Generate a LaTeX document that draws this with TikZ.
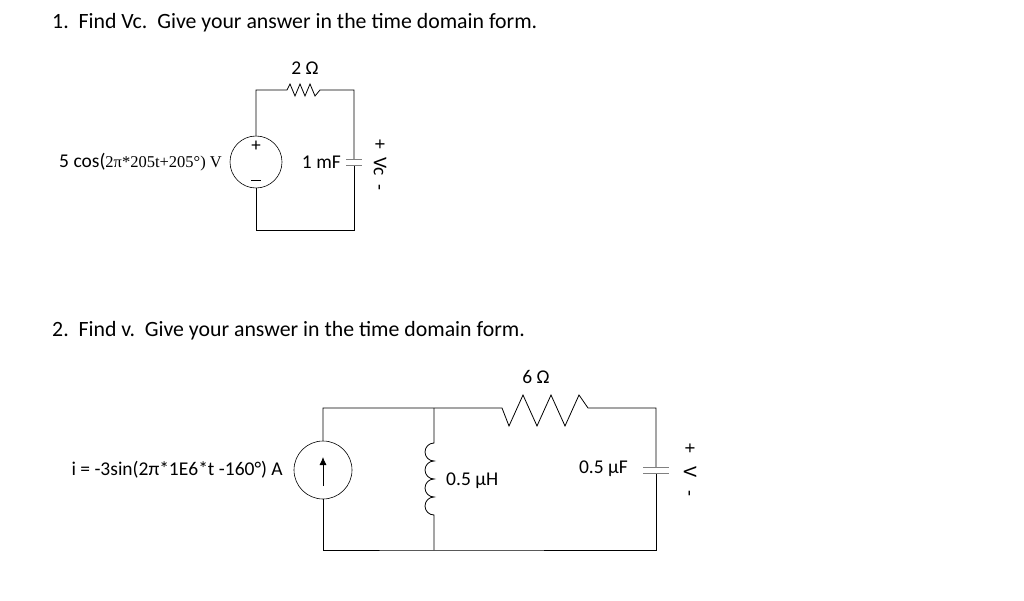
\documentclass[tikz,border=0pt]{standalone}
\usepackage{fontspec}
\setmainfont{Carlito}
\newfontfamily\tms{Liberation Serif}
\usetikzlibrary{arrows.meta}
\begin{document}
\begin{tikzpicture}[x=1pt,y=-1pt,
  wire/.style={line width=0.8pt},
  capplate/.style={gray,line width=0.9pt},
  lbl/.style={font=\fontsize{19.5}{22}\selectfont,inner sep=0pt},
  ttl/.style={font=\fontsize{21.8}{24}\selectfont,anchor=west,inner sep=0pt}]
\useasboundingbox (0,0) rectangle (1024,601);
\node[ttl] (t1) at (52,23) {1.\ \ Find Vc.\ \ Give your answer in the time domain form.};
\node[ttl] (t2) at (52,331) {2.\ \ Find v.\ \ Give your answer in the time domain form.};
% circuit 1
\coordinate (a1) at (256,90); \coordinate (b1) at (354,90);
\coordinate (c1) at (354,230); \coordinate (d1) at (256,230);
\node[draw,circle,minimum size=52pt,inner sep=0pt,line width=0.6pt] (s1) at (256,162) {};
\node[font=\fontsize{19}{20}\selectfont,inner sep=0pt] (pl1) at (256,146) {+};
\draw[line width=0.6pt] (251,180) -- (261,180);
\coordinate (r1a) at (287,90); \coordinate (r1b) at (325,90);
\draw[wire] (s1.north) -- (a1) -- (r1a) -- (290,84) -- (295,96) -- (300,84) -- (305,96) -- (310,84) -- (315,96) -- (320,90) -- (r1b) -- (b1) -- (354,159);
\draw[wire] (354,165) -- (c1) -- (d1) -- (s1.south);
\draw[capplate] (346,159) -- (362,159) (346,165) -- (362,165);
\node[lbl] (l2) at (305,68) {2 Ω};
\node[lbl,anchor=east] (l1m) at (341,162) {1 mF};
\node[lbl,rotate=-90] (vc) at (380,165) {+\ \ Vc\ \ -};
\node[lbl,anchor=east] (src1) at (222,162) {5 cos({\tms\fontsize{16.5}{18}\selectfont 2π*205t+205°) V}};
% circuit 2
\coordinate (a2) at (323,408); \coordinate (m2) at (434,408); \coordinate (b2) at (656,408);
\coordinate (c2) at (656,550); \coordinate (n2) at (434,550); \coordinate (d2) at (323,550);
\node[draw,circle,minimum size=58pt,inner sep=0pt,line width=0.6pt] (s2) at (323,470) {};
\draw[line width=0.8pt,-{Latex[length=8pt,width=7pt]}] (323,486) -- (323,457);
\draw[wire] (s2.north) -- (a2) -- (m2) -- (502,408) -- (509,426) -- (523,395) -- (537,426) -- (551,395) -- (565,426) -- (579,395) -- (588,408) -- (b2) -- (656,467);
\draw[wire] (656,473) -- (c2) -- (n2) -- (d2) -- (s2.south);
\draw[wire] (m2) -- (434,443)
  arc[start angle=90,end angle=270,radius=9pt]
  arc[start angle=90,end angle=270,radius=9pt]
  arc[start angle=90,end angle=270,radius=9pt]
  arc[start angle=90,end angle=270,radius=9pt]
  -- (n2);
\draw[capplate] (643,467) -- (669,467) (643,473) -- (669,473);
\node[lbl] (l6) at (536,377) {6 Ω};
\node[lbl,anchor=west] (lh) at (446,481) {0.5 µH};
\node[lbl,anchor=east] (lf) at (628,469) {0.5 µF};
\node[lbl,rotate=-90] (v) at (690,470) {+\ \ \ V\ \ \ -};
\node[lbl,anchor=east] (src2) at (283,470) {i = -3sin(2π*1E6*t -160°) A};
\end{tikzpicture}
\end{document}
